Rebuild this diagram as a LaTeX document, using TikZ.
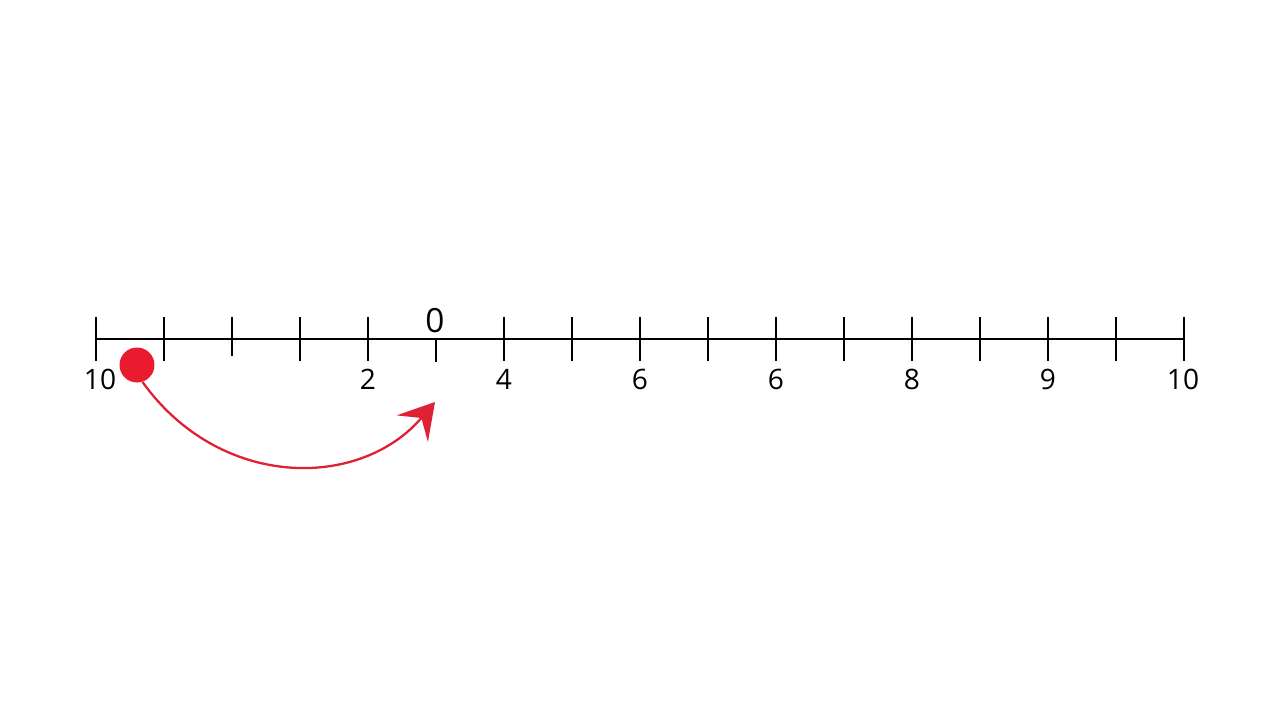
\documentclass[tikz,border=0pt]{standalone}
\usepackage{fontspec}
\setmainfont{Open Sans}
\usepackage{tikz}
\usetikzlibrary{arrows.meta}
\definecolor{dotred}{RGB}{232,28,46}
\definecolor{arcred}{RGB}{224,32,52}

\begin{document}
\begin{tikzpicture}[
                x=0.02cm, y=-0.02cm,
                axis/.style={line width=1.15pt, black},
                tick/.style={line width=1.15pt, black},
                num/.style={inner sep=0pt, font=\fontsize{16}{18}\selectfont},
                zero/.style={inner sep=0pt, font=\fontsize{19}{21}\selectfont},
                marker/.style={circle, fill=dotred, minimum size=0.7cm, inner sep=0pt},
                jump/.style={-{Stealth[length=0.7cm, width=0.82cm, inset=0.28cm]}, line width=1.3pt, arcred}
            ]

            \useasboundingbox[fill=white] (0,0) rectangle (1280,720);

            \coordinate (start) at (96,339);
            \coordinate (end) at (1184,339);
            \draw[axis] (start) -- (end);

            % ticks
            \foreach \i in {0,1,3,4,6,7,8,9,10,11,12,13,14,15,16}
                \draw[tick] (96+\i*68,317) -- (96+\i*68,361);
            \draw[tick] (232,317) -- (232,356);
            \draw[tick] (436,339) -- (436,362);

            \node[zero] (zero) at (435,321) {0};

            \node[num] (n10a) at (100,379) {10};
            \node[num] (n2) at (368,379) {2};
            \node[num] (n4) at (504,379) {4};
            \node[num] (n6a) at (640,379) {6};
            \node[num] (n6b) at (776,379) {6};
            \node[num] (n8) at (912,379) {8};
            \node[num] (n9) at (1048,379) {9};
            \node[num] (n10b) at (1183,379) {10};

            \node[marker] (dot) at (137,365) {};
            \coordinate (tip) at (435,402);

            \draw[jump] (dot.-72) .. controls (220,490) and (360,490) .. (tip);

        \end{tikzpicture}
\end{document}
